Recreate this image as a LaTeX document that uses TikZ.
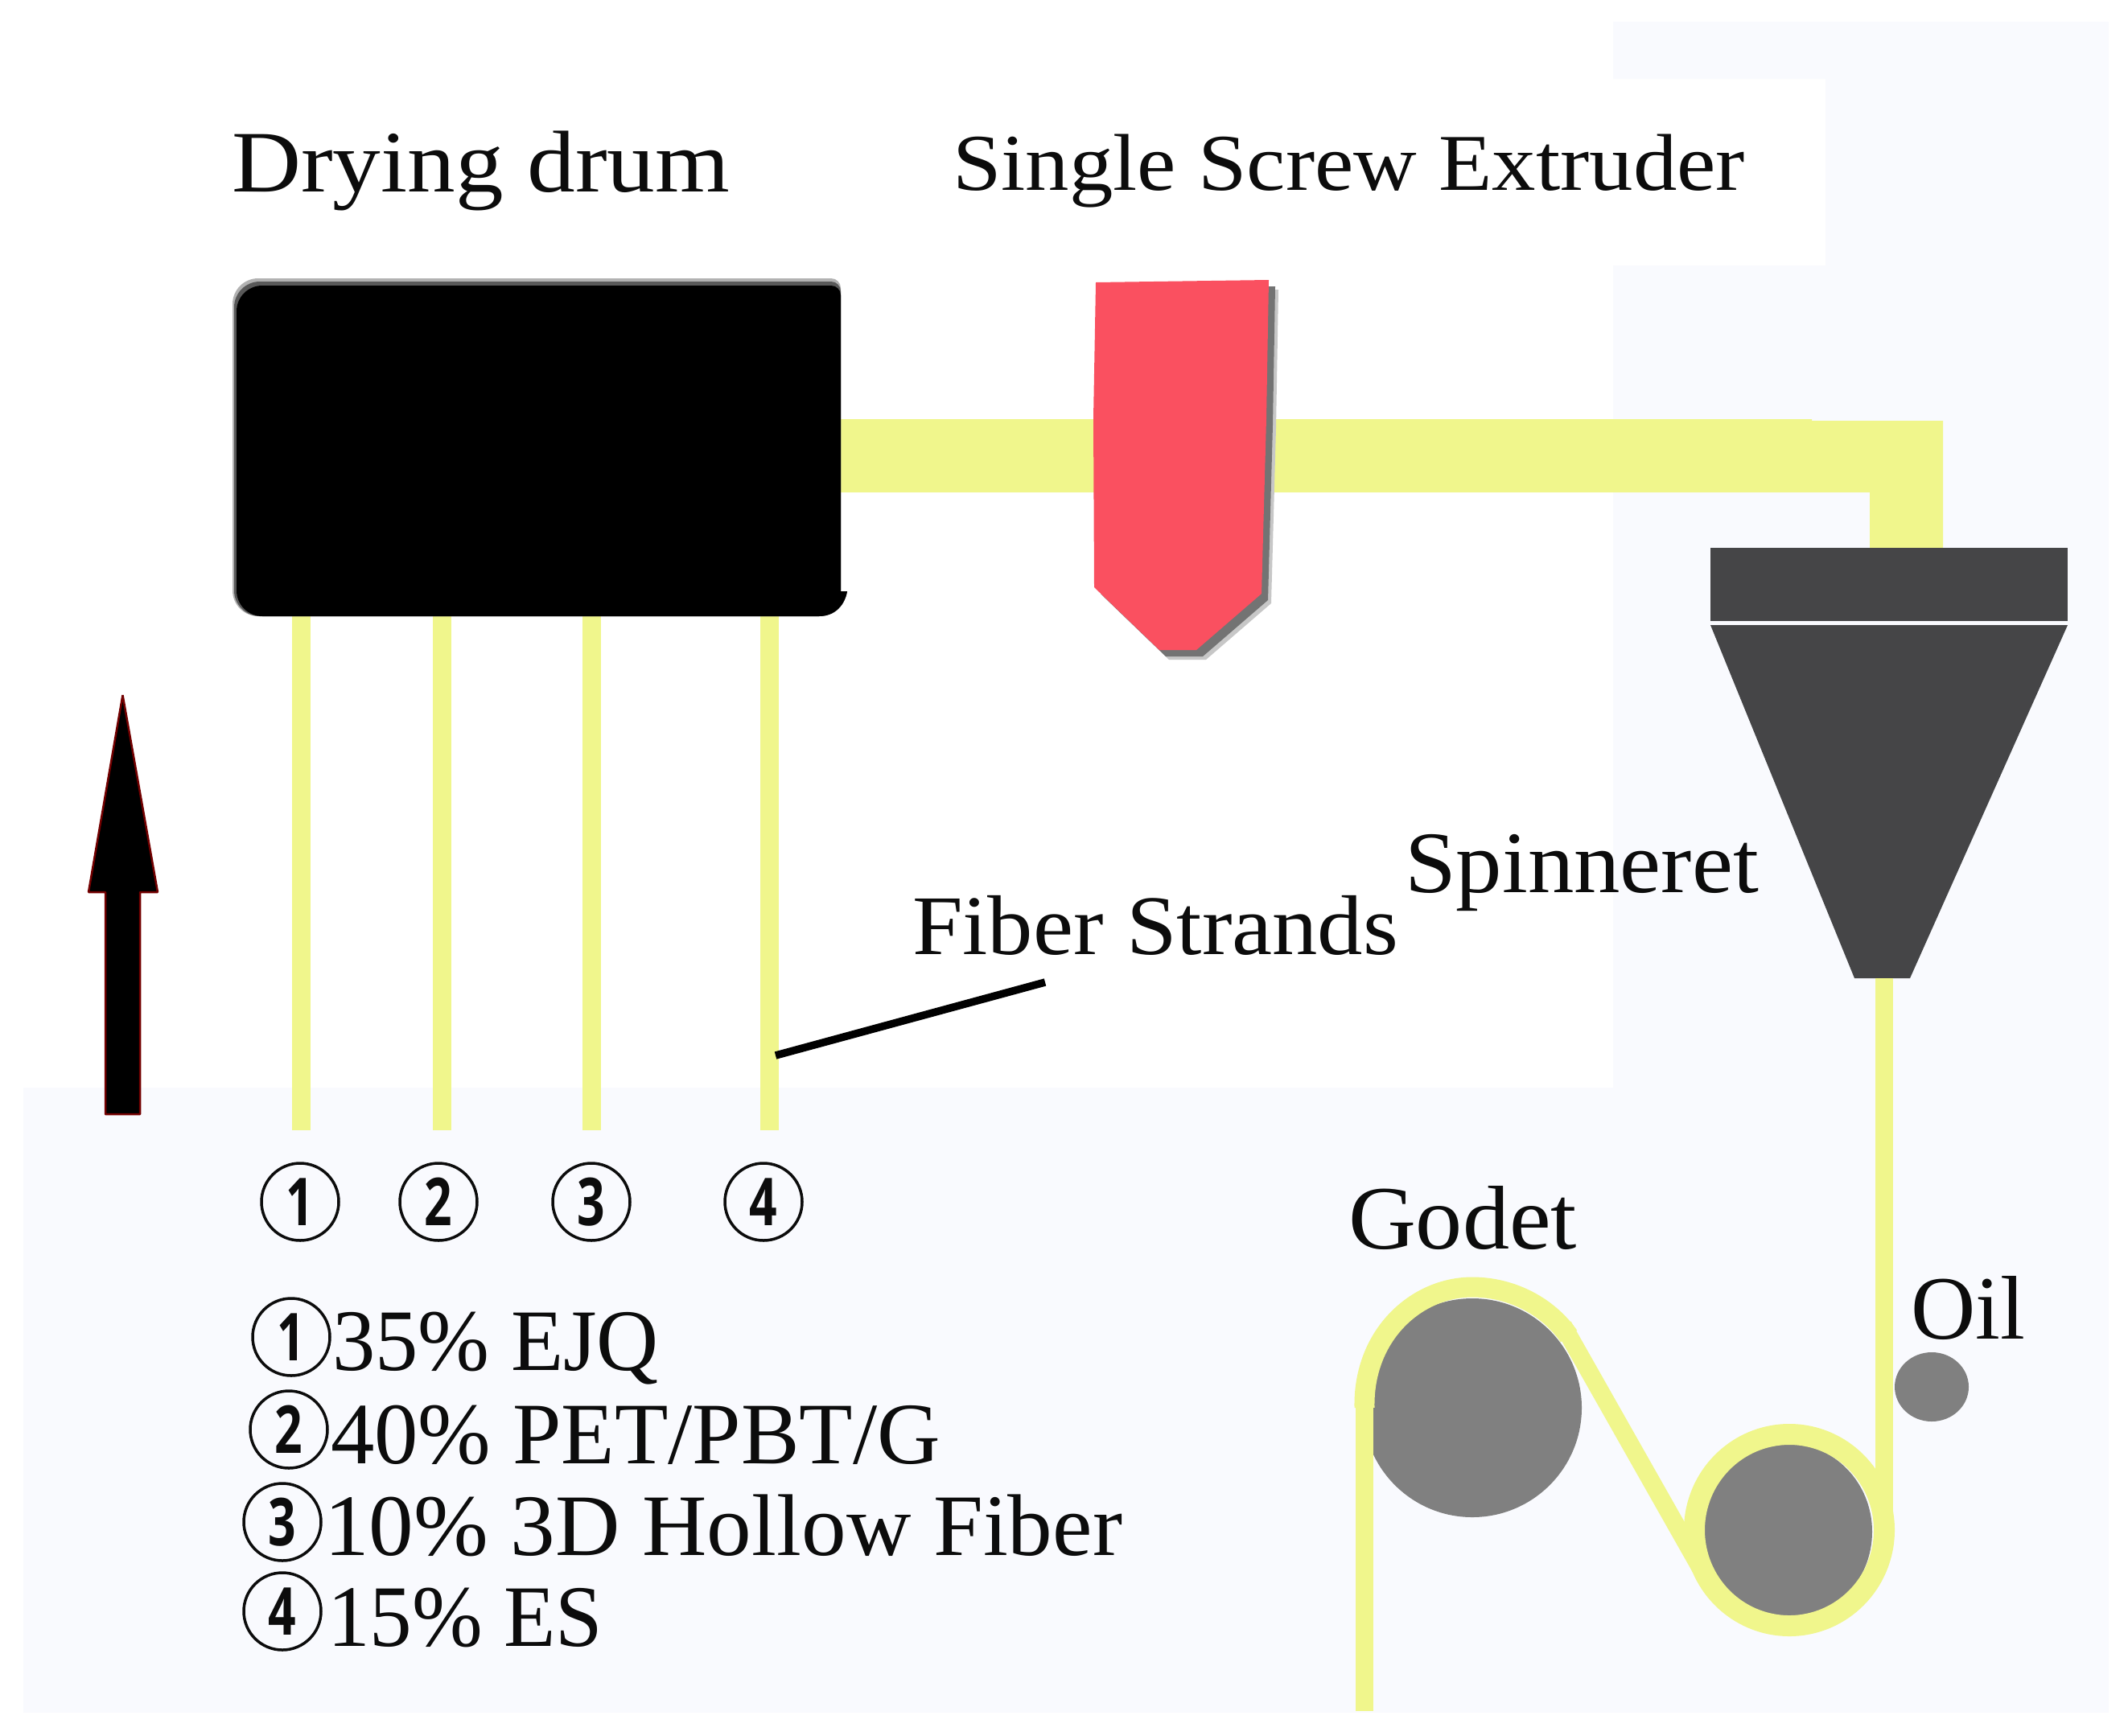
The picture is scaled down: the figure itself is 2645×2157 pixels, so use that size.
\documentclass[tikz,border=0pt]{standalone}
\usepackage{fontspec}
\setmainfont{Liberation Serif}
\newfontfamily\digfont{Open Sans}
\definecolor{bgblue}{HTML}{F9FAFE}
\definecolor{fiber}{HTML}{F0F68C}
\definecolor{extr}{HTML}{FA5060}
\definecolor{spin}{HTML}{454547}
\definecolor{goddet}{HTML}{808080}
\definecolor{ink}{HTML}{0C0C0C}
\newcommand{\wtxt}[2]{\resizebox{#1}{\height}{#2}}
\newcommand{\dig}[1]{\scalebox{0.84}[1.14]{#1}}
\newcommand{\drumlayer}[3]{\fill[#1] (600,766) [rounded corners=3.2mm] -- (#2,766) -- (#2,#3) [rounded corners=1.2mm] -- (1045,#3) [sharp corners] -- (1045,735) -- (1053,735) .. controls (1050,752) and (1038,766) .. (1018,766) -- cycle;}
\newcommand{\extrshape}[3]{\fill[#1,shift={(#2,#3)}] (1362,351) -- (1577,348) -- (1574,520) -- (1568,738) -- (1487,808) -- (1441,808) -- (1360,730) -- (1359,520) -- cycle;}
\tikzset{
  bgblock/.style={fill=bgblue,draw=none},
  strand/.style={draw=fiber,line width=2.3mm},
  thread/.style={draw=fiber,line width=2.2mm},
  threadarc/.style={draw=fiber,line width=2.5mm},
  lab/.style={anchor=base west,inner sep=0pt,outer sep=0pt,text=ink},
  numcirc/.style={circle,draw=ink,line width=0.35mm,minimum size=9.6mm,inner sep=0pt,font=\digfont\bfseries\fontsize{20.5}{20.5}\selectfont,text=ink},
}
\begin{document}
\begin{tikzpicture}[x=0.1mm,y=-0.1mm]
\useasboundingbox (0,0) rectangle (2645,2157);
\fill[white] (0,0) rectangle (2645,2157);
% background blocks
\fill[bgblock] (2005,27) -- (2621,27) -- (2621,2129) -- (29,2129) -- (29,1352) -- (2005,1352) -- (2005,330) -- (2269,330) -- (2269,98) -- (2005,98) -- cycle;
% named points
\coordinate (s1t) at (374.5,760); \coordinate (s1b) at (374.5,1405);
\coordinate (s2t) at (549.5,760); \coordinate (s2b) at (549.5,1405);
\coordinate (s3t) at (735.5,760); \coordinate (s3b) at (735.5,1405);
\coordinate (s4t) at (956.5,760); \coordinate (s4b) at (956.5,1405);
% melt pipe
\fill[fiber] (1040,521) -- (2252,521) -- (2252,523) -- (2415,523) -- (2415,685) -- (2324,685) -- (2324,612) -- (1040,612) -- cycle;
% strands
\draw[strand] (s1t) -- (s1b);
\draw[strand] (s2t) -- (s2b);
\draw[strand] (s3t) -- (s3b);
\draw[strand] (s4t) -- (s4b);
% drum
\drumlayer{black!30}{289}{346}
\drumlayer{black!65}{291}{350}
\drumlayer{black}{294}{355}
% extruder
\extrshape{black!22}{12}{12}
\extrshape{black!55}{8}{8}
\extrshape{extr}{0}{0}
% spinneret
\fill[spin] (2126,681) rectangle (2570,772);
\fill[spin] (2126,777) -- (2570,777) -- (2374,1216) -- (2305,1216) -- cycle;
% arrow
\draw[fill=black,draw=black!40!red!75!black,line width=0.25mm,line join=bevel] (152.5,864) -- (196,1109) -- (174,1109) -- (174,1385) -- (131,1385) -- (131,1109) -- (110,1109) -- cycle;
% godets
\fill[goddet] (1830,1750) circle[radius=136];
\fill[goddet] (2221,1904) ellipse[x radius=106,y radius=110];
\fill[goddet] (2401,1724) ellipse[x radius=46,y radius=43];
\coordinate (tb) at (1696,2127); \coordinate (tc) at (1696,1750); \coordinate (tt) at (1830,1600);
\coordinate (td) at (1950,1661); \coordinate (te) at (2114,1950);
\coordinate (sb) at (2342,1216); \coordinate (se) at (2342,1900);
\draw[thread] (tb) -- (tc);
\draw[threadarc] (tc) .. controls (1694,1660) and (1760,1600) .. (tt) .. controls (1880,1600) and (1925,1625) .. (td);
\draw[thread] (1943,1648) -- (te);
\draw[draw=fiber,line width=2.6mm] (2224,1902) ellipse[x radius=118,y radius=119];
\draw[thread] (sb) -- (se);
% leader
\coordinate (ll) at (964,1312); \coordinate (lr) at (1299,1221);
\draw[black,line width=0.95mm] (ll) -- (lr);
% labels
\node[lab] (drum) at (288,238) {\fontsize{31}{31}\selectfont\wtxt{61.9mm}{Drying drum}};
\node[lab] (extruder) at (1184,236) {\fontsize{28.5}{28.5}\selectfont\wtxt{98.5mm}{Single Screw Extruder}};
\node[lab] (spinneret) at (1746,1109) {\fontsize{31}{31}\selectfont\wtxt{44mm}{Spinneret}};
\node[lab] (strands) at (1134,1186) {\fontsize{30}{30}\selectfont\wtxt{60.4mm}{Fiber Strands}};
\node[lab] (godet) at (1676,1552) {\fontsize{32}{32}\selectfont\wtxt{28.4mm}{Godet}};
\node[lab] (oil) at (2375,1664) {\fontsize{32}{32}\selectfont\wtxt{14.2mm}{Oil}};
% numbered circles
\node[numcirc] (n1) at (373,1494) {\dig{1}};
\node[numcirc] (n2) at (545,1494) {\dig{2}};
\node[numcirc] (n3) at (735,1494) {\dig{3}};
\node[numcirc] (n4) at (949,1494) {\dig{4}};
\node[numcirc] (k1) at (362,1662) {\dig{1}};
\node[numcirc] (k2) at (359,1777) {\dig{2}};
\node[numcirc] (k3) at (351,1892) {\dig{3}};
\node[numcirc] (k4) at (351,2003) {\dig{4}};
% legend
\node[lab] (l1) at (413,1703) {\fontsize{31}{31}\selectfont\wtxt{40.6mm}{35\% EJQ}};
\node[lab] (l2) at (411,1819) {\fontsize{31}{31}\selectfont\wtxt{75.8mm}{40\% PET/PBT/G}};
\node[lab] (l3) at (403,1933) {\fontsize{31}{31}\selectfont\wtxt{99.2mm}{10\% 3D Hollow Fiber}};
\node[lab] (l4) at (407,2046) {\fontsize{31}{31}\selectfont\wtxt{34.2mm}{15\% ES}};
\end{tikzpicture}
\end{document}
